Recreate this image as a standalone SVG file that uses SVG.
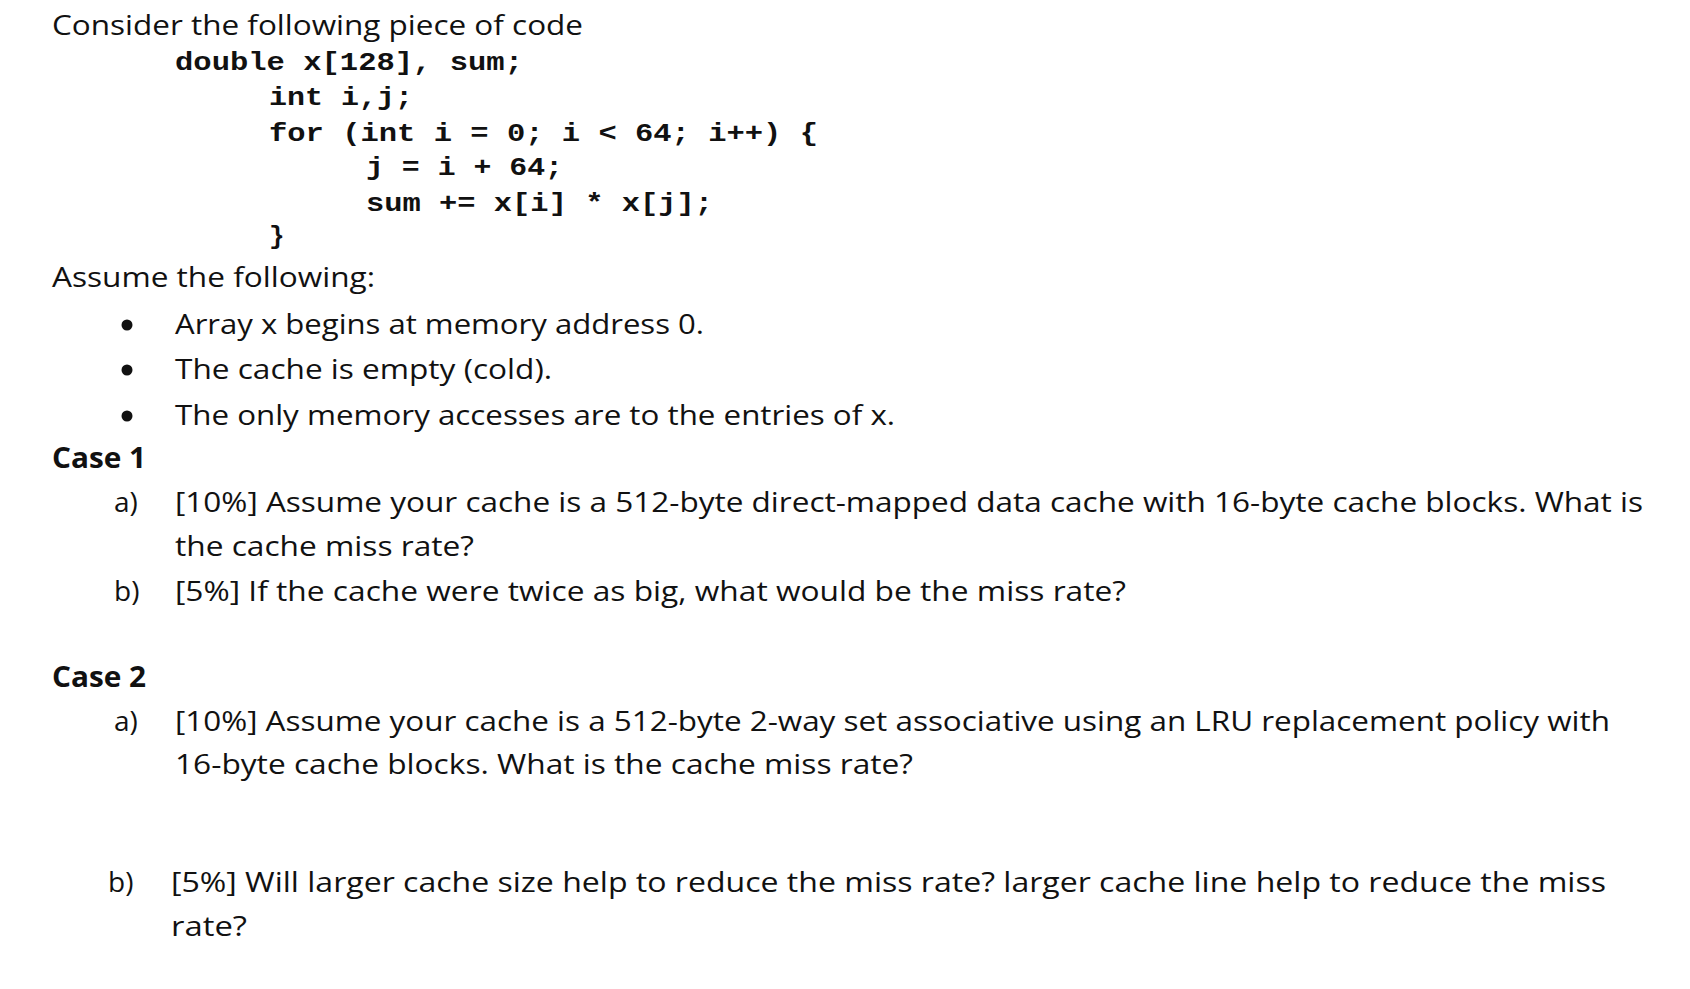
<svg xmlns="http://www.w3.org/2000/svg" width="1690" height="989" viewBox="0 0 1690 989">
<style>
.t{font-family:"Open Sans","Liberation Sans",sans-serif;font-size:28px;fill:#111}
.b{font-weight:bold}
.c{font-family:"Liberation Mono",monospace;font-size:26px;font-weight:bold;fill:#111}
</style>
<rect width="1690" height="989" fill="#fff"/>
<g id="text">
<text class="t" x="52" y="35" textLength="531" lengthAdjust="spacingAndGlyphs">Consider the following piece of code</text>
<text class="c" x="175" y="70" textLength="348" lengthAdjust="spacingAndGlyphs">double x[128], sum;</text>
<text class="c" x="269" y="105" textLength="144" lengthAdjust="spacingAndGlyphs">int i,j;</text>
<text class="c" x="269" y="141" textLength="549" lengthAdjust="spacingAndGlyphs">for (int i = 0; i &lt; 64; i++) {</text>
<text class="c" x="366" y="175" textLength="197" lengthAdjust="spacingAndGlyphs">j = i + 64;</text>
<text class="c" x="366" y="211" textLength="347" lengthAdjust="spacingAndGlyphs">sum += x[i]  * x[j];</text>
<text class="c" x="269" y="244">}</text>
<text class="t" x="52" y="287" textLength="323" lengthAdjust="spacingAndGlyphs">Assume the following:</text>
<circle cx="127" cy="325" r="5.5" fill="#111"/>
<circle cx="127" cy="370" r="5.5" fill="#111"/>
<circle cx="127" cy="416" r="5.5" fill="#111"/>
<text class="t" x="175" y="334" textLength="529" lengthAdjust="spacingAndGlyphs">Array x begins at memory address 0.</text>
<text class="t" x="175" y="379" textLength="377" lengthAdjust="spacingAndGlyphs">The cache is empty (cold).</text>
<text class="t" x="175" y="425" textLength="720" lengthAdjust="spacingAndGlyphs">The only memory accesses are to the entries of x.</text>
<text class="t b" x="52" y="468" textLength="94" lengthAdjust="spacingAndGlyphs">Case 1</text>
<text class="t" x="114" y="512">a)</text>
<text class="t" x="175" y="512" textLength="1468" lengthAdjust="spacingAndGlyphs">[10%] Assume your cache is a 512-byte direct-mapped data cache with 16-byte cache blocks. What is</text>
<text class="t" x="175" y="556" textLength="299" lengthAdjust="spacingAndGlyphs">the cache miss rate?</text>
<text class="t" x="114" y="601">b)</text>
<text class="t" x="175" y="601" textLength="951" lengthAdjust="spacingAndGlyphs">[5%] If the cache were twice as big, what would be the miss rate?</text>
<text class="t b" x="52" y="687" textLength="94" lengthAdjust="spacingAndGlyphs">Case 2</text>
<text class="t" x="114" y="731">a)</text>
<text class="t" x="175" y="731" textLength="1435" lengthAdjust="spacingAndGlyphs">[10%] Assume your cache is a 512-byte 2-way set associative using an LRU replacement policy with</text>
<text class="t" x="175" y="774" textLength="738" lengthAdjust="spacingAndGlyphs">16-byte cache blocks. What is the cache miss rate?</text>
<text class="t" x="108" y="892">b)</text>
<text class="t" x="171" y="892" textLength="1435" lengthAdjust="spacingAndGlyphs">[5%] Will larger cache size help to reduce the miss rate? larger cache line help to reduce the miss</text>
<text class="t" x="171" y="936" textLength="76" lengthAdjust="spacingAndGlyphs">rate?</text>
</g>
</svg>
